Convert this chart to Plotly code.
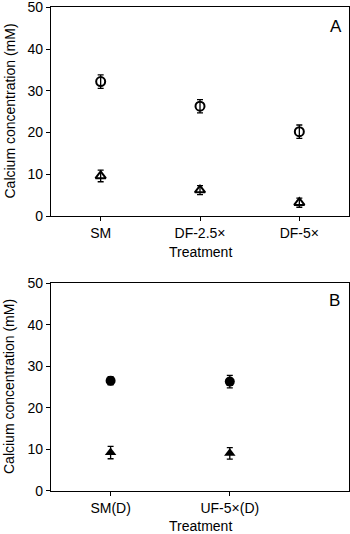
import plotly.graph_objects as go

# Panel A data
cat_a = ["SM", "DF-2.5×", "DF-5×"]
circle_a = [32.2, 26.3, 20.2]
circle_a_err = [1.6, 1.6, 1.6]
tri_a = [9.6, 6.2, 3.2]
tri_a_err = [1.4, 1.1, 1.1]

# Panel B data
cat_b = ["SM(D)", "UF-5×(D)"]
circle_b = [26.5, 26.3]
circle_b_err = [1.0, 1.5]
tri_b = [9.2, 9.0]
tri_b_err = [1.5, 1.4]

y_ticks = [0, 10, 20, 30, 40, 50]
y_title = "Calcium concentration (mM)"
x_title = "Treatment"

FONT = "Liberation Sans, Arial, sans-serif"
fig = go.Figure()

def err(vals):
    return dict(type="data", array=vals, color="black", thickness=1.3, width=3)

fig.add_trace(go.Scatter(x=list(range(len(cat_a))), y=circle_a, mode="markers",
                         marker=dict(symbol="circle-open", size=9, color="black", line=dict(width=2)),
                         error_y=err(circle_a_err), xaxis="x", yaxis="y", showlegend=False))
fig.add_trace(go.Scatter(x=list(range(len(cat_a))), y=tri_a, mode="markers",
                         marker=dict(symbol="triangle-up-open", size=9, color="black", line=dict(width=2)),
                         error_y=err(tri_a_err), xaxis="x", yaxis="y", showlegend=False))
fig.add_trace(go.Scatter(x=list(range(len(cat_b))), y=circle_b, mode="markers",
                         marker=dict(symbol="circle", size=10, color="black"),
                         error_y=err(circle_b_err), xaxis="x2", yaxis="y2", showlegend=False))
fig.add_trace(go.Scatter(x=list(range(len(cat_b))), y=tri_b, mode="markers",
                         marker=dict(symbol="triangle-up", size=10, color="black"),
                         error_y=err(tri_b_err), xaxis="x2", yaxis="y2", showlegend=False))

W, H = 350, 534
xdom = [51 / W, 349 / W]
ydomA = [1 - 216 / H, 1 - 7.3 / H]
ydomB = [1 - 490.7 / H, 1 - 283.3 / H]

axis_common = dict(showline=True, linecolor="black", linewidth=1.3, mirror=True,
                   ticks="outside", ticklen=4, tickcolor="black", tickwidth=1.3,
                   showgrid=False, zeroline=False, automargin=False,
                   ticklabeloverflow="allow",
                   tickfont=dict(family=FONT, size=14, color="black"))

def ann(text, x, y, size=14, angle=0):
    return dict(text=text, x=x / W, y=1 - y / H, xref="paper", yref="paper", showarrow=False,
                font=dict(family=FONT, size=size, color="black"), xanchor="center",
                yanchor="middle", textangle=angle)

fig.update_layout(
    width=W, height=H, margin=dict(l=0, r=0, t=0, b=0),
    plot_bgcolor="white", paper_bgcolor="white",
    font=dict(family=FONT, size=14, color="black"),
    xaxis=dict(domain=xdom, anchor="y", range=[-0.5, 2.5], tickvals=list(range(len(cat_a))),
               ticktext=cat_a, **axis_common),
    yaxis=dict(domain=ydomA, anchor="x", range=[0, 50], tickvals=y_ticks, **axis_common),
    xaxis2=dict(domain=xdom, anchor="y2", range=[-0.5, 2.0], tickvals=list(range(len(cat_b))),
                ticktext=cat_b, **axis_common),
    yaxis2=dict(domain=ydomB, anchor="x2", range=[0, 50], tickvals=y_ticks, **axis_common),
    annotations=[
        ann("A", 336, 26, size=17),
        ann("B", 334, 300, size=17),
        ann(y_title, 9, 111.5, angle=-90),
        ann(y_title, 9, 387, angle=-90),
        ann(x_title, 200, 252),
        ann(x_title, 200, 526),
    ],
)

fig.write_html("out.html", config={"displayModeBar": False},
               post_script="document.body.style.margin='0';")
